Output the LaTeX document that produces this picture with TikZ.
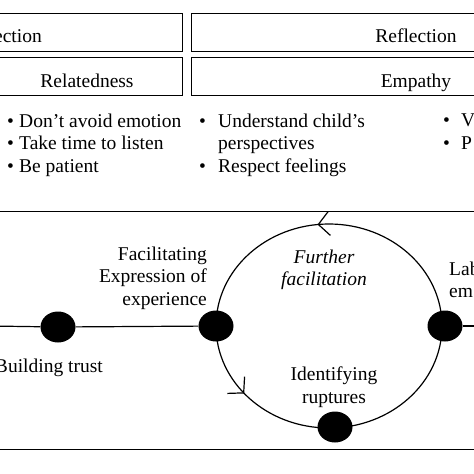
\documentclass[tikz,border=0pt]{standalone}
\usepackage{fontspec}
\setmainfont{Liberation Serif}
\usetikzlibrary{arrows.meta,decorations.markings,shapes.geometric}

\tikzset{
    box/.style={draw=black, line width=1pt},
    txt/.style={inner sep=0pt, font=\fontsize{19.5}{22.5}\selectfont},
    dot/.style={ellipse, fill=black, inner sep=0pt, minimum width=35pt, minimum height=31pt},
    cycle/.style={line width=1.2pt, postaction={decorate}, decoration={markings,
        mark=at position 0.389 with {\arrowreversed{Straight Barb[length=11pt,width=24pt]}},
        mark=at position 0.733 with {\arrowreversed{Straight Barb[length=11pt,width=24pt]}}}}
}
\newcommand{\bul}[1]{\makebox[#1][l]{\textbullet}}

\begin{document}
\begin{tikzpicture}[x=1pt,y=-1pt]
    \useasboundingbox (0,0) rectangle (474,474);
    \clip (0,0) rectangle (474,474);

    % Draw the boxes
    \draw[box] (-20,13) rectangle (182,51);
    \draw[box] (191,13) rectangle (490,51);
    \draw[box] (-20,57) rectangle (182,95);
    \draw[box] (191,57) rectangle (490,95);
    \draw[box] (-20,211) rectangle (490,449);

    % Labels in the boxes
    \node[txt, anchor=base east] (conn) at (42,42) {ection};
    \node[txt, anchor=base] (refl) at (416,42.5) {Reflection};
    \node[txt, anchor=base] (relat) at (87,87) {Relatedness};
    \node[txt, anchor=base] (emp) at (416,87) {Empathy};

    % Bullet lists
    \node[txt, anchor=north west, align=left] (listA) at (7,113.7)
        {\bul{12pt}Don’t avoid emotion\\ \bul{12pt}Take time to listen\\ \bul{12pt}Be patient};
    \node[txt, anchor=north west, align=left] (listB) at (199,113.7)
        {\bul{19pt}Understand child’s\\ \hspace*{19pt}perspectives\\ \bul{19pt}Respect feelings};
    \node[txt, anchor=north west, align=left] (listC) at (443,113.7)
        {\bul{18pt}V\\ \bul{18pt}P};

    % The process line and the cycle
    \coordinate (start) at (-10,326);
    \coordinate (stop) at (490,326);
    \node[dot] (trust) at (58,327) {};
    \node[dot] (facil) at (216,326) {};
    \node[dot] (label) at (445,326) {};
    \node[dot] (rupt) at (335,427) {};
    \draw[line width=1.2pt] (start) -- (trust) -- (facil);
    \draw[line width=1.2pt] (label) -- (stop);
    \draw[cycle] (329,326) ellipse [x radius=113, y radius=102];

    % Stage labels
    \node[txt, anchor=base east] (trustlab) at (103,372) {Building trust};
    \node[txt, anchor=north east, align=right] (faciltxt) at (207,246.7)
        {Facilitating\\ Expression of\\ experience};
    \node[txt, anchor=north, align=center, font=\fontsize{19.5}{22.5}\selectfont\itshape] (further) at (324,249.7)
        {Further\\ facilitation};
    \node[txt, anchor=north, align=center] (rupttxt) at (334,366.7)
        {Identifying\\ ruptures};
    \node[txt, anchor=north west, align=left] (labeltxt) at (449,261.7)
        {Lab\\ em};
\end{tikzpicture}
\end{document}
